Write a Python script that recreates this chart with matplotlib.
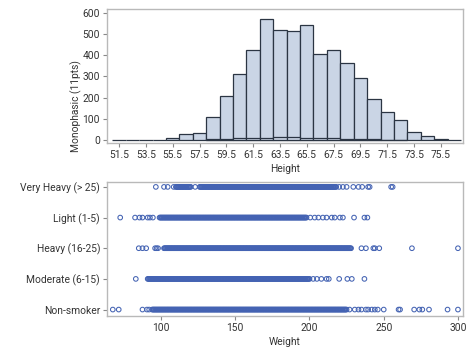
import numpy as np
import matplotlib
matplotlib.use("Agg")
import matplotlib.pyplot as plt

plt.rcParams['font.family'] = ['Roboto', 'DejaVu Sans']

# ---------------- Histogram data (Height) ----------------
bin_left = [51, 52, 53, 54, 55, 56, 57, 58, 59, 60, 61, 62, 63, 64, 65, 66, 67,
            68, 69, 70, 71, 72, 73, 74, 75, 76]
counts = [1, 1, 1, 1, 8, 27, 31, 107, 206, 311, 423, 572, 517, 512, 542, 405,
          423, 361, 291, 193, 130, 93, 38, 17, 3, 2]
# small overlaid second group
bin_left2 = [58, 59, 60, 61, 62, 63, 64, 65, 66, 67, 68, 69, 70, 71, 72]
counts2 = [3, 6, 8, 9, 11, 12, 12, 11, 10, 8, 6, 4, 3, 2, 1]
height_ticks = [51.5, 53.5, 55.5, 57.5, 59.5, 61.5, 63.5, 65.5, 67.5, 69.5,
                71.5, 73.5, 75.5]
count_ticks = [0, 100, 200, 300, 400, 500, 600]

# ---------------- Scatter data (Weight by smoking status) ----------------
categories = ['Non-smoker', 'Moderate (6-15)', 'Heavy (16-25)', 'Light (1-5)',
              'Very Heavy (> 25)']
# dense bands of observed weights (recorded in half pounds): (low, high)
dense_bands = {
    'Non-smoker': [(94, 225)],
    'Moderate (6-15)': [(91, 200)],
    'Heavy (16-25)': [(102, 228)],
    'Light (1-5)': [(99, 198)],
    'Very Heavy (> 25)': [(110, 120), (126, 218)],
}
# individually visible points
sparse_points = {
    'Non-smoker': [67.5, 71.5, 87.5, 90.5, 92, 227, 230.5, 233, 235, 238,
                   239.5, 242, 244, 246, 250, 260, 261, 270.5, 274, 276,
                   280.5, 293, 300],
    'Moderate (6-15)': [83, 202.5, 205, 208, 211.5, 213, 220, 225.5, 228.5, 237],
    'Heavy (16-25)': [85, 87.5, 90, 96, 97, 98, 235, 238, 243, 244, 247, 269, 300],
    'Light (1-5)': [72.5, 82.5, 85.5, 87.5, 91, 92.5, 94.5, 200.5, 203.5, 206,
                    209, 211.5, 215, 217, 220.5, 222.5, 230, 237, 239],
    'Very Heavy (> 25)': [96.5, 102, 104.5, 108.5, 123, 220, 222.5, 225, 229.5,
                          233, 235.5, 239.5, 240.5, 255, 256],
}
weight_ticks = [100, 150, 200, 250, 300]

# ---------------- Styling ----------------
fill = '#cad5e5'
edge = '#2b3543'
spine = '#b9b9b9'
txt = '#333333'
mk = '#4463b3'
fs = 7.4

fig = plt.figure(figsize=(4.74, 3.55), dpi=100)

def style(ax):
    for s in ax.spines.values():
        s.set_color(spine)
        s.set_linewidth(1.0)
    ax.tick_params(colors=txt, labelsize=fs, length=3, width=0.8,
                   direction='out', pad=2)
    ax.tick_params(axis='both', color='#888888')

# Histogram
ax1 = fig.add_axes([107/474, 1-143/355, 356/474, 134/355])
ax1.bar(bin_left, counts, width=1, align='edge', color=fill, edgecolor=edge,
        linewidth=0.9)
ax1.bar(bin_left2, counts2, width=1, align='edge', color=fill, edgecolor=edge,
        linewidth=0.9)
ax1.set_xlim(50.6, 77.15)
ax1.set_ylim(-14, 617)
ax1.set_xticks(height_ticks)
ax1.set_xticklabels([f'{t:.1f}' for t in height_ticks])
ax1.set_yticks(count_ticks)
ax1.set_xlabel('Height', fontsize=fs, color=txt, labelpad=3)
style(ax1)

# Scatter
ax2 = fig.add_axes([107/474, 1-316/355, 356/474, 134/355])
for i, cat in enumerate(categories):
    vals = []
    for lo, hi in dense_bands[cat]:
        vals.extend(np.arange(lo, hi + 0.25, 0.5))
    vals.extend(sparse_points[cat])
    vals = np.array(vals, dtype=float)
    ax2.scatter(vals, np.full(len(vals), i), s=11, facecolors='none',
                edgecolors=mk, linewidths=0.75, zorder=3)
ax2.set_xlim(63.6, 303.4)
ax2.set_ylim(-0.21, 4.16)
ax2.set_yticks(range(len(categories)))
ax2.set_yticklabels(categories)
ax2.set_xticks(weight_ticks)
ax2.set_xlabel('Weight', fontsize=fs, color=txt, labelpad=3)
style(ax2)

fig.text(76/474, 1-106/355, 'Monophasic (11pts)', rotation=90, ha='center',
         va='center', fontsize=fs, color=txt)

fig.savefig('out.png', dpi=100, facecolor='white')
